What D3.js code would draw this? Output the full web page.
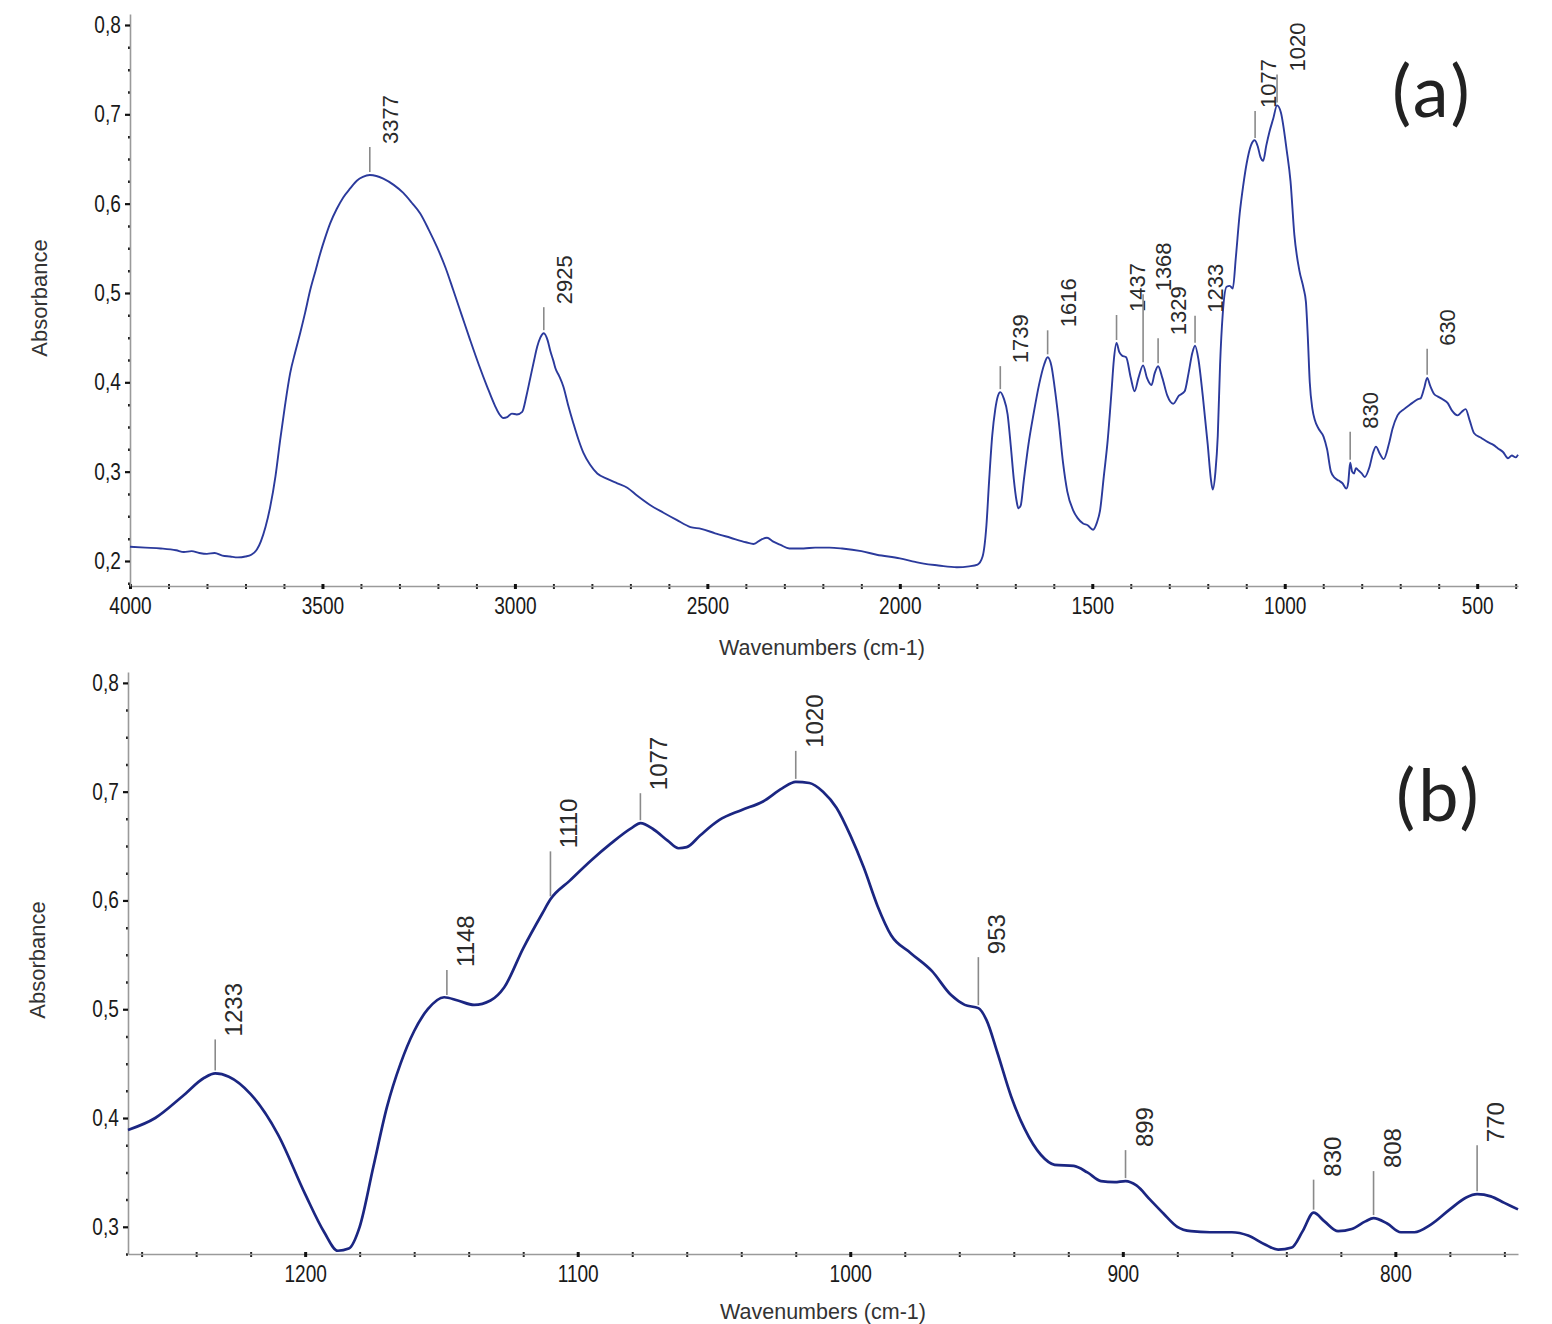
<!DOCTYPE html>
<html>
<head>
<meta charset="utf-8">
<title>FTIR spectra (a) and (b)</title>
<script src="https://cdn.jsdelivr.net/npm/d3@7/dist/d3.min.js"></script>
<style>
  body { margin: 0; background: #fff; }
  text { font-family: "Liberation Sans", Arial, sans-serif; }
</style>
</head>
<body>
<div id="chart"></div>
<script>
// ---- panel (a): full spectrum 4000-400 cm-1 ----
const wavenumbersA = [4000, 3960, 3920, 3880, 3860, 3840, 3820, 3800, 3780, 3760, 3740, 3720, 3700, 3685, 3670, 3660, 3648, 3636, 3622, 3610,
  3597, 3584, 3570, 3558, 3545, 3532, 3518, 3506, 3493, 3480, 3463, 3446, 3428, 3410, 3395, 3377, 3360, 3342, 3315, 3290,
  3268, 3246, 3224, 3202, 3180, 3160, 3138, 3116, 3094, 3072, 3052, 3040, 3030, 3020, 3008, 2995, 2981, 2970, 2960, 2950,
  2942, 2934, 2925, 2915, 2908, 2900, 2895, 2885, 2874, 2862, 2848, 2835, 2822, 2805, 2786, 2760, 2734, 2708, 2682, 2650,
  2614, 2580, 2544, 2516, 2480, 2440, 2400, 2380, 2360, 2345, 2330, 2310, 2287, 2250, 2220, 2183, 2150, 2100, 2060, 2000,
  1960, 1938, 1900, 1852, 1820, 1798, 1785, 1775, 1768, 1760, 1752, 1745, 1739, 1730, 1720, 1712, 1704, 1697, 1692, 1686,
  1678, 1666, 1652, 1638, 1625, 1616, 1606, 1598, 1588, 1576, 1565, 1550, 1538, 1524, 1512, 1498, 1488, 1480, 1470, 1460,
  1450, 1444, 1437, 1430, 1423, 1412, 1400, 1390, 1380, 1368, 1358, 1346, 1338, 1329, 1318, 1305, 1290, 1275, 1260, 1250,
  1240, 1233, 1224, 1213, 1200, 1192, 1187, 1180, 1174, 1168, 1161, 1151, 1143, 1135, 1127, 1117, 1108, 1099, 1088, 1078,
  1070, 1063, 1056, 1048, 1040, 1030, 1020, 1010, 995, 985, 975, 962, 951, 945, 940, 935, 928, 922, 912, 899,
  890, 880, 870, 860, 850, 840, 835, 830, 825, 820, 815, 810, 800, 792, 780, 770, 763, 753, 743, 730,
  720, 707, 690, 675, 665, 655, 647, 638, 630, 622, 612, 602, 590, 577, 565, 551, 540, 530, 520, 508,
  490, 472, 458, 446, 433, 420, 410, 400, 394];
const absorbanceA = [0.216, 0.215, 0.214, 0.212, 0.210, 0.211, 0.209, 0.208, 0.209, 0.206, 0.205, 0.204, 0.205, 0.207, 0.213, 0.222, 0.238, 0.260, 0.295, 0.335,
  0.375, 0.410, 0.435, 0.455, 0.478, 0.503, 0.525, 0.544, 0.562, 0.578, 0.594, 0.607, 0.617, 0.626, 0.630, 0.632, 0.631, 0.628, 0.621, 0.612,
  0.601, 0.589, 0.571, 0.551, 0.528, 0.503, 0.475, 0.447, 0.420, 0.395, 0.374, 0.364, 0.360, 0.361, 0.365, 0.364, 0.367, 0.385, 0.405, 0.425,
  0.440, 0.450, 0.455, 0.447, 0.435, 0.424, 0.416, 0.407, 0.395, 0.375, 0.354, 0.336, 0.321, 0.308, 0.298, 0.292, 0.287, 0.282, 0.273, 0.263,
  0.254, 0.246, 0.238, 0.236, 0.231, 0.226, 0.221, 0.219, 0.224, 0.226, 0.222, 0.218, 0.214, 0.214, 0.215, 0.215, 0.214, 0.211, 0.207, 0.203,
  0.199, 0.197, 0.195, 0.193, 0.194, 0.196, 0.205, 0.240, 0.290, 0.340, 0.370, 0.385, 0.389, 0.382, 0.364, 0.330, 0.292, 0.268, 0.259, 0.262,
  0.290, 0.330, 0.366, 0.398, 0.420, 0.428, 0.418, 0.395, 0.360, 0.310, 0.278, 0.257, 0.248, 0.242, 0.240, 0.235, 0.243, 0.256, 0.295, 0.335,
  0.390, 0.425, 0.444, 0.434, 0.430, 0.428, 0.405, 0.390, 0.405, 0.419, 0.405, 0.397, 0.410, 0.418, 0.405, 0.385, 0.376, 0.385, 0.390, 0.410,
  0.433, 0.441, 0.425, 0.385, 0.330, 0.292, 0.280, 0.300, 0.340, 0.420, 0.477, 0.507, 0.508, 0.505, 0.540, 0.589, 0.620, 0.645, 0.665, 0.671,
  0.664, 0.652, 0.648, 0.665, 0.680, 0.695, 0.710, 0.702, 0.660, 0.625, 0.565, 0.525, 0.505, 0.490, 0.450, 0.400, 0.370, 0.358, 0.348, 0.339,
  0.325, 0.300, 0.293, 0.290, 0.287, 0.281, 0.288, 0.310, 0.300, 0.298, 0.304, 0.302, 0.298, 0.294, 0.305, 0.322, 0.328, 0.320, 0.314, 0.330,
  0.348, 0.363, 0.370, 0.375, 0.378, 0.381, 0.382, 0.393, 0.405, 0.396, 0.387, 0.384, 0.381, 0.377, 0.368, 0.363, 0.367, 0.370, 0.358, 0.343,
  0.338, 0.333, 0.330, 0.326, 0.322, 0.315, 0.318, 0.316, 0.319];
const peaksA = [3377, 2925, 1739, 1616, 1437, 1368, 1329, 1233, 1077, 1020, 830, 630];
const xTicksA = [4000, 3500, 3000, 2500, 2000, 1500, 1000, 500];

// ---- panel (b): zoom 1265-755 cm-1 ----
const wavenumbersB = [1265, 1255, 1245, 1237, 1233, 1228, 1220, 1210, 1200, 1193, 1188, 1184, 1180, 1175, 1170, 1165, 1160, 1155, 1149, 1144,
  1138, 1132, 1127, 1120, 1113, 1110, 1103, 1095, 1088, 1080, 1077, 1072, 1067, 1063, 1060, 1055, 1048, 1040, 1032, 1025,
  1020, 1015, 1010, 1005, 1000, 995, 990, 985, 978, 970, 963, 958, 953, 950, 946, 941, 936, 930, 925, 918,
  913, 908, 903, 899, 895, 890, 885, 880, 875, 868, 860, 854, 848, 843, 838, 834, 830, 826, 821, 816,
  811, 808, 803, 798, 793, 787, 780, 774, 770, 765, 760, 755];
const absorbanceB = [0.389, 0.400, 0.420, 0.437, 0.441, 0.438, 0.422, 0.385, 0.330, 0.295, 0.278, 0.280, 0.300, 0.355, 0.410, 0.450, 0.480, 0.500, 0.511, 0.508,
  0.504, 0.508, 0.520, 0.556, 0.588, 0.601, 0.618, 0.637, 0.652, 0.667, 0.671, 0.665, 0.655, 0.648, 0.649, 0.660, 0.674, 0.683, 0.691, 0.703,
  0.709, 0.708, 0.700, 0.685, 0.660, 0.630, 0.595, 0.568, 0.552, 0.535, 0.513, 0.504, 0.501, 0.490, 0.460, 0.420, 0.390, 0.366, 0.357, 0.356,
  0.350, 0.342, 0.341, 0.342, 0.338, 0.325, 0.312, 0.300, 0.296, 0.295, 0.295, 0.292, 0.284, 0.279, 0.281, 0.296, 0.313, 0.305, 0.296, 0.298,
  0.305, 0.308, 0.303, 0.295, 0.295, 0.302, 0.316, 0.327, 0.330, 0.328, 0.322, 0.316];
const peaksB = [1233, 1148, 1110, 1077, 1020, 953, 899, 830, 808, 770];
const xTicksB = [1200, 1100, 1000, 900, 800];

const yTicks = [0.2, 0.3, 0.4, 0.5, 0.6, 0.7, 0.8];

// leader line lengths (px) per peak label
const leadA = {3377: 25, 2925: 23, 1739: 23, 1616: 24, 1437: 25, 1368: 68, 1329: 25, 1233: 27, 1077: 27, 1020: 28, 830: 28, 630: 26};
const leadB = {1233: 31, 1148: 25, 1110: 45, 1077: 27, 1020: 28, 953: 48, 899: 28, 830: 30, 808: 44, 770: 46};
// 1077 label in (a) sits a bit closer to its line so it clears the curve
const labelShiftA = {1077: -7};

const svg = d3.select("#chart").append("svg")
  .attr("width", 1552)
  .attr("height", 1324)
  .style("background", "#fff");

const fmtY = d => d3.format(".1f")(d).replace(".", ",");

function absAt(wn, wns, abs) {
  for (let i = 0; i < wns.length - 1; i++) {
    if (wn <= wns[i] && wn >= wns[i + 1]) {
      const t = (wns[i] - wn) / (wns[i] - wns[i + 1]);
      return abs[i] + t * (abs[i + 1] - abs[i]);
    }
  }
  return abs[abs.length - 1];
}

function panel(opt) {
  const x = d3.scaleLinear().domain(opt.xDomain).range(opt.xRange);
  const y = d3.scaleLinear().domain(opt.yDomain).range(opt.yRange);
  const g = svg.append("g");
  const x0 = opt.xRange[0], yB = opt.yRange[0];

  // minor ticks
  g.append("g")
    .attr("transform", `translate(0,${yB})`)
    .call(d3.axisBottom(x).tickValues(opt.xMinor).tickSize(3).tickFormat(""))
    .call(a => a.select(".domain").remove())
    .selectAll("line").attr("stroke", "#222").attr("stroke-width", 2).attr("y1", -2);
  g.append("g")
    .attr("transform", `translate(${x0},0)`)
    .call(d3.axisLeft(y).tickValues(opt.yMinor).tickSize(2).tickFormat(""))
    .call(a => a.select(".domain").remove())
    .selectAll("line").attr("stroke", "#222").attr("stroke-width", 2.5);

  // major axes
  const xa = g.append("g")
    .attr("transform", `translate(0,${yB})`)
    .call(d3.axisBottom(x).tickValues(opt.xTicks).tickSizeInner(3).tickSizeOuter(0).tickPadding(9).tickFormat(d3.format("d")));
  xa.select(".domain").attr("stroke", "#9a9a9a").attr("stroke-width", 1.6);
  xa.selectAll(".tick line").attr("stroke", "#111").attr("stroke-width", 3).attr("y1", -2);
  xa.selectAll("text").attr("fill", "#1a1a1a").style("font-size", "23px")
    .attr("transform", "scale(0.83,1)");

  const ya = g.append("g")
    .attr("transform", `translate(${x0},0)`)
    .call(d3.axisLeft(y).tickValues(opt.yTicks).tickSizeInner(5).tickSizeOuter(0).tickPadding(6).tickFormat(fmtY));
  ya.select(".domain").attr("stroke", "#9a9a9a").attr("stroke-width", 1.6);
  ya.selectAll(".tick line").attr("stroke", "#111").attr("stroke-width", 2.2);
  ya.selectAll("text").attr("fill", "#1a1a1a").style("font-size", "23px")
    .attr("transform", "scale(0.83,1)");

  // axis titles
  g.append("text")
    .attr("transform", `translate(${opt.yTitle[0]},${opt.yTitle[1]}) rotate(-90)`)
    .attr("text-anchor", "middle").attr("fill", "#333").style("font-size", "22px")
    .text("Absorbance");
  g.append("text")
    .attr("x", opt.xTitle[0]).attr("y", opt.xTitle[1])
    .attr("text-anchor", "middle").attr("fill", "#333").style("font-size", "21.5px")
    .text("Wavenumbers (cm-1)");

  // spectrum
  const pts = opt.wns.map((w, i) => [w, opt.abs[i]]);
  g.append("path")
    .datum(pts)
    .attr("fill", "none")
    .attr("stroke", opt.color)
    .attr("stroke-width", opt.width)
    .attr("stroke-linejoin", "round")
    .attr("d", d3.line().x(d => x(d[0])).y(d => y(d[1])).curve(d3.curveMonotoneX));

  // peak labels
  opt.peaks.forEach(p => {
    const px = x(p);
    const py = y(absAt(p, opt.wns, opt.abs)) - 3;
    const top = py - opt.lead[p];
    const dx = opt.labelDx + ((opt.shift && opt.shift[p]) || 0);
    g.append("line")
      .attr("x1", px).attr("x2", px).attr("y1", py).attr("y2", top)
      .attr("stroke", "#8a8a8a").attr("stroke-width", 1.6);
    g.append("text")
      .attr("transform", `translate(${px + dx},${top - 3}) rotate(-90)`)
      .attr("fill", "#2a2a2a").style("font-size", opt.labelSize + "px")
      .text(p);
  });

  g.append("text")
    .attr("x", opt.tag[0]).attr("y", opt.tag[1])
    .attr("fill", "#222")
    .style("font-family", "Lato, 'Open Sans', sans-serif").style("font-size", "72px")
    .style("letter-spacing", "3px")
    .text(opt.tagText);
}

panel({
  wns: wavenumbersA, abs: absorbanceA, peaks: peaksA, lead: leadA, shift: labelShiftA,
  xDomain: [4000, 394], xRange: [130, 1518],
  yDomain: [0.172, 0.8123], yRange: [586, 14],
  xTicks: xTicksA, xMinor: d3.range(400, 4001, 100).filter(d => d % 500 !== 0),
  yTicks: yTicks, yMinor: d3.range(0.175, 0.81, 0.025).filter(d => Math.abs(d * 10 - Math.round(d * 10)) > 0.01),
  yTitle: [47, 298], xTitle: [822, 655],
  color: "#2b3a9c", width: 1.9, labelDx: 28, labelSize: 22,
  tag: [1392, 117], tagText: "(a)"
});

panel({
  wns: wavenumbersB, abs: absorbanceB, peaks: peaksB, lead: leadB,
  xDomain: [1265, 755], xRange: [128, 1518],
  yDomain: [0.275, 0.81], yRange: [1254, 672],
  xTicks: xTicksB, xMinor: d3.range(760, 1261, 20).filter(d => d % 100 !== 0),
  yTicks: yTicks.filter(d => d >= 0.3), yMinor: d3.range(0.275, 0.81, 0.025).filter(d => Math.abs(d * 10 - Math.round(d * 10)) > 0.01),
  yTitle: [45, 960], xTitle: [823, 1319],
  color: "#1b2682", width: 2.7, labelDx: 27, labelSize: 24,
  tag: [1396, 821], tagText: "(b)"
});
</script>
</body>
</html>
